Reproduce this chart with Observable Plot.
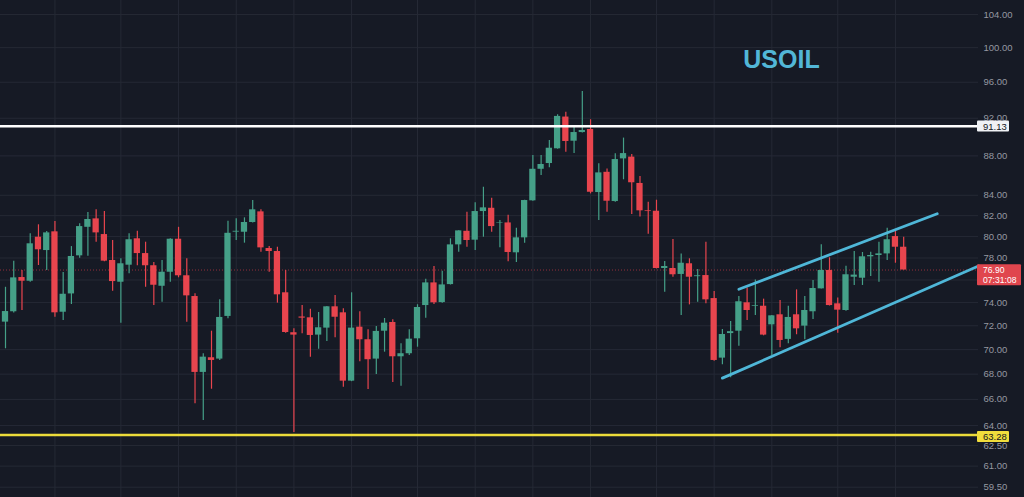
<!DOCTYPE html>
<html><head><meta charset="utf-8">
<script src="https://cdn.jsdelivr.net/npm/d3@7"></script>
<script src="https://cdn.jsdelivr.net/npm/@observablehq/plot@0.6"></script>
<style>html,body{margin:0;padding:0;background:#161a25;overflow:hidden}svg{display:block}</style>
</head><body><div id="chart"></div>
<script>
// Daily USOIL candles (open, high, low, close), oldest first
const opens = [72.31,73.20,76.22,75.89,79.94,78.69,80.45,73.16,74.76,78.20,80.88,81.69,80.19,77.77,75.80,77.34,79.79,78.41,77.29,75.44,76.70,79.75,76.38,74.53,68.14,69.33,69.22,72.80,80.42,80.41,81.34,82.37,78.88,78.60,74.86,71.41,72.75,72.68,71.21,71.80,73.63,73.11,67.44,71.88,70.82,69.22,71.54,72.28,69.41,69.66,70.90,73.74,75.74,74.00,75.59,79.22,80.50,79.66,82.40,82.72,81.25,81.30,78.48,79.88,83.45,86.62,87.21,88.74,92.13,89.54,90.46,90.79,84.27,86.31,83.38,87.69,87.87,85.18,82.47,82.43,77.04,77.04,76.50,77.47,76.30,76.40,74.35,69.30,71.34,71.54,73.98,73.68,73.68,72.08,72.94,70.85,72.94,71.97,73.20,75.21,76.86,73.89,73.31,76.25,76.16,78.11,78.23,78.38,80.00,79.00];
const highs = [75.35,77.71,76.86,80.26,81.12,80.48,81.43,76.68,79.06,81.21,82.31,82.57,82.40,79.63,77.93,80.26,80.50,79.47,77.59,77.77,79.80,80.88,77.93,74.77,69.66,71.54,74.24,81.46,81.69,81.79,83.48,82.57,79.06,79.00,76.86,71.74,73.74,73.42,73.14,73.65,74.62,73.46,74.86,73.20,71.66,71.94,72.62,72.51,70.49,71.66,73.81,76.07,77.22,76.80,79.79,80.56,82.33,83.25,84.80,83.70,81.53,82.04,80.79,83.50,88.03,88.03,89.62,92.38,92.66,91.22,94.96,91.84,87.18,86.66,88.21,89.87,88.14,85.88,83.31,83.51,77.68,79.72,78.38,77.93,76.95,79.47,74.97,71.68,72.37,74.53,75.29,76.01,74.30,72.87,74.18,73.68,75.12,74.53,75.95,79.22,78.02,74.41,77.25,78.60,78.51,78.53,79.47,80.79,80.50,79.94];
const lows = [70.07,73.10,73.31,75.80,77.31,76.86,72.73,72.45,73.83,77.98,78.17,79.47,77.65,75.00,72.22,76.56,77.29,75.35,73.74,74.03,75.80,76.20,72.31,65.67,64.38,66.80,69.11,72.60,79.63,79.38,81.30,78.53,76.70,73.95,71.37,63.48,71.32,69.38,70.04,70.68,70.99,66.96,67.40,69.00,66.78,67.98,69.79,67.34,67.04,69.52,70.20,72.65,73.83,73.95,75.55,78.53,79.00,78.69,79.94,80.41,78.94,77.65,77.59,79.38,83.40,85.98,86.77,88.70,88.38,88.24,90.40,84.14,81.53,82.33,83.30,85.55,82.11,81.86,80.22,77.00,74.91,76.25,72.88,73.80,74.03,73.89,69.05,68.76,67.71,70.28,72.45,72.88,71.15,69.52,70.15,70.49,71.24,70.82,72.54,75.20,73.70,71.37,73.25,75.51,75.51,76.31,75.80,77.77,77.52,76.90];
const closes = [73.22,76.19,75.89,79.32,78.76,80.35,73.11,74.73,78.14,80.95,81.63,80.35,77.71,75.86,77.47,79.70,78.41,77.29,75.53,76.70,79.75,76.38,74.59,68.14,69.38,69.11,72.71,80.31,80.50,81.34,82.57,78.94,78.60,74.68,71.43,71.21,72.65,71.18,71.83,73.63,72.73,67.44,71.80,70.82,69.17,71.52,72.22,69.41,69.66,70.87,73.57,75.74,73.98,75.56,79.22,80.54,79.63,82.40,82.76,80.95,81.30,78.51,79.88,83.48,86.62,87.11,88.80,92.20,89.51,90.46,90.68,84.30,86.25,83.41,87.62,88.24,85.25,82.47,82.40,77.04,77.22,76.47,77.52,76.25,76.38,74.24,69.11,71.26,71.50,74.07,73.31,73.74,71.21,72.85,70.76,72.71,71.74,73.31,75.24,76.86,73.74,73.34,76.47,76.44,78.11,78.23,78.38,79.70,79.00,76.90];

// Price axis
const tickLabels = [104,100,96,92,88,84,82,80,78,74,72,70,68,66,64,62.5,61,59.5];
const gridValues = [104,100,96,92,88,84,82,80,78,76,74,72,70,68,66,64,62.5,61,59.5];
const vGridIdx = [6,14,21,28,35,42,50,57,64,71,79,86,93,101,108];

// Levels and channel (candle index, price)
const resistance = 91.13;
const support = 63.28;
const lastPrice = 76.90;
const countdown = "07:31:08";
const upperChannel = [[89.0, 75.17], [113.07, 82.18]];
const lowerChannel = [[87.0, 67.68], [118.08, 77.27]];
const title = "USOIL";

const UP = "#45a088", DOWN = "#e8454e";
const candles = opens.map((o, i) => ({i, open: o, high: highs[i], low: lows[i], close: closes[i], col: closes[i] >= o ? UP : DOWN}));

const chart = Plot.plot({
  width: 1024, height: 497,
  marginLeft: 0, marginRight: 46, marginTop: 0, marginBottom: 0,
  style: {background: "#161a25", color: "#9598a1", fontFamily: "'Liberation Sans', Arial, sans-serif", fontSize: "9.5px"},
  x: {domain: [-0.607, 118.08], axis: null},
  y: {type: "log", domain: [58.78, 105.73]},
  color: {type: "identity"},
  marks: [
    Plot.gridY(gridValues, {stroke: "#252935", strokeOpacity: 1}),
    Plot.gridX(vGridIdx, {stroke: "#252935", strokeOpacity: 1}),
    Plot.ruleY([lastPrice], {stroke: "#a8343f", strokeOpacity: 0.85, strokeDasharray: "1,2"}),
    Plot.ruleX(candles, {x: "i", y1: "low", y2: "high", stroke: "col", strokeWidth: 1.2}),
    Plot.rect(candles, {x1: d => d.i - 0.38, x2: d => d.i + 0.38, y1: "open", y2: "close", fill: "col"}),
    Plot.ruleY([resistance], {stroke: "#ffffff", strokeWidth: 2.6}),
    Plot.ruleY([support], {stroke: "#ecdb3a", strokeWidth: 2.4}),
    Plot.line(upperChannel, {x: d => d[0], y: d => d[1], stroke: "#4fb7d8", strokeWidth: 2.8}),
    Plot.line(lowerChannel, {x: d => d[0], y: d => d[1], stroke: "#4fb7d8", strokeWidth: 2.8}),
    Plot.text([title], {frameAnchor: "top-left", dx: 781, dy: 59, text: d => d, fill: "#52b7d7", fontSize: 25, fontWeight: "bold", textAnchor: "middle", lineAnchor: "middle"}),
    Plot.axisY(tickLabels, {anchor: "right", tickSize: 0, tickPadding: 5, tickFormat: d => d.toFixed(2), fill: "#9598a1", fontSize: 9.5, label: null})
  ]
});
document.getElementById("chart").appendChild(chart);

// Price tags on the right axis, positioned with Plot's y scale
const ys = chart.scale("y");
const svg = d3.select(chart);
function tag(value, fill, textFill, lines, w, h, offTop, fs, step) {
  const yv = ys.apply(value);
  const g = svg.append("g").attr("text-anchor", "start");
  g.append("rect").attr("x", 977).attr("y", yv - offTop).attr("width", w).attr("height", h).attr("fill", fill).attr("rx", 1);
  lines.forEach((t, k) => {
    g.append("text").attr("x", 983).attr("y", yv - offTop + h / (2 * lines.length) + 0.2 + k * step)
      .attr("text-anchor", "start")
      .attr("dominant-baseline", "central").attr("fill", textFill)
      .attr("font-size", fs + "px").attr("font-family", "'Liberation Sans', Arial, sans-serif").text(t);
  });
}
tag(resistance, "#f0f2f5", "#131722", [resistance.toFixed(2)], 32, 11, 5.2, 9.5, 0);
tag(lastPrice, "#e0464e", "#ffffff", [lastPrice.toFixed(2), countdown], 44, 21, 5.3, 8.6, 10);
tag(support, "#f0dd3c", "#131722", [support.toFixed(2)], 32, 11, 3.6, 9.5, 0);
</script></body></html>
